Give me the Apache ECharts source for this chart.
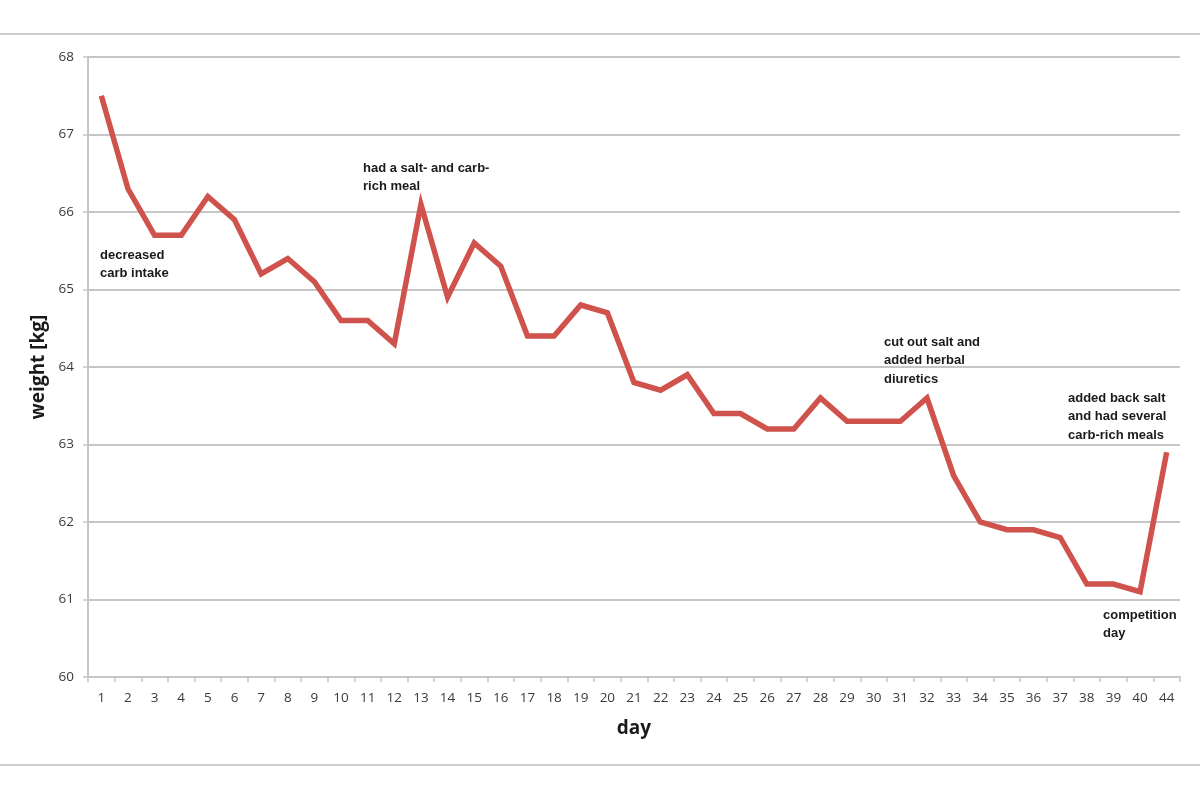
<!DOCTYPE html>
<html>
<head>
<meta charset="utf-8">
<script src="https://cdn.jsdelivr.net/npm/echarts@6/dist/echarts.min.js"></script>
<style>
  html, body { margin: 0; padding: 0; background: #fff; }
  #chart { width: 1200px; height: 800px; }
</style>
</head>
<body>
<div id="chart"></div>
<script>
/* day labels on the x axis (the last one jumps to 44) */
const days = ['1','2','3','4','5','6','7','8','9','10','11','12','13','14','15','16','17','18','19','20',
  '21','22','23','24','25','26','27','28','29','30','31','32','33','34','35','36','37','38','39','40','44'];
/* weight in kg */
const weight = [67.5, 66.3, 65.7, 65.7, 66.2, 65.9, 65.2, 65.4, 65.1, 64.6,
  64.6, 64.3, 66.1, 64.9, 65.6, 65.3, 64.4, 64.4, 64.8, 64.7,
  63.8, 63.7, 63.9, 63.4, 63.4, 63.2, 63.2, 63.6, 63.3, 63.3,
  63.3, 63.6, 62.6, 62.0, 61.9, 61.9, 61.8, 61.2, 61.2, 61.1, 62.9];
const notes = [
  { text: 'decreased\ncarb intake', left: 100, top: 246 },
  { text: 'had a salt- and carb-\nrich meal', left: 363, top: 159 },
  { text: 'cut out salt and\nadded herbal\ndiuretics', left: 884, top: 333 },
  { text: 'added back salt\nand had several\ncarb-rich meals', left: 1068, top: 389 },
  { text: 'competition\nday', left: 1103, top: 606 }
];

const chart = echarts.init(document.getElementById('chart'));
const grey = '#c6c6c6';
const tickFont = { fontFamily: 'Open Sans', fontSize: 13.5, color: '#3a3a3a' };

const graphics = notes.map(n => ({
  type: 'text', left: n.left, top: n.top,
  style: { text: n.text, font: 'bold 13px "Liberation Sans", Arial', fill: '#1a1a1a', lineHeight: 18.5 }
}));
/* the thin rules above and below the chart */
graphics.push({ type: 'line', shape: { x1: 0, y1: 34, x2: 1200, y2: 34 }, style: { stroke: '#bdbdbd', lineWidth: 1.5 } });
graphics.push({ type: 'line', shape: { x1: 0, y1: 765, x2: 1200, y2: 765 }, style: { stroke: '#bdbdbd', lineWidth: 1.5 } });

chart.setOption({
  backgroundColor: '#fff',
  animation: false,
  grid: { left: 88, right: 20, top: 57, bottom: 123 },
  xAxis: {
    type: 'category',
    data: days,
    boundaryGap: true,
    name: 'day',
    nameLocation: 'middle',
    nameGap: 42,
    nameTextStyle: { fontFamily: 'Open Sans', fontWeight: 'bold', fontSize: 19, color: '#1a1a1a' },
    axisLine: { lineStyle: { color: grey, width: 2 } },
    axisTick: { show: true, alignWithLabel: false, length: 5, lineStyle: { color: grey, width: 1.5 } },
    axisLabel: Object.assign({ interval: 0, margin: 14 }, tickFont)
  },
  yAxis: {
    type: 'value',
    min: 60, max: 68, interval: 1,
    name: 'weight [kg]',
    nameLocation: 'middle',
    nameGap: 40,
    nameTextStyle: { fontFamily: 'Open Sans', fontWeight: 'bold', fontSize: 19, color: '#1a1a1a' },
    axisLine: { show: true, lineStyle: { color: grey, width: 2 } },
    axisTick: { show: true, length: 5, lineStyle: { color: grey, width: 1.5 } },
    axisLabel: Object.assign({ margin: 14 }, tickFont),
    splitLine: { lineStyle: { color: grey, width: 2 } }
  },
  series: [{
    type: 'line',
    data: weight,
    symbol: 'none',
    lineStyle: { color: '#d0524c', width: 5.5, join: 'miter' },
    z: 5
  }],
  graphic: graphics
});
</script>
</body>
</html>
